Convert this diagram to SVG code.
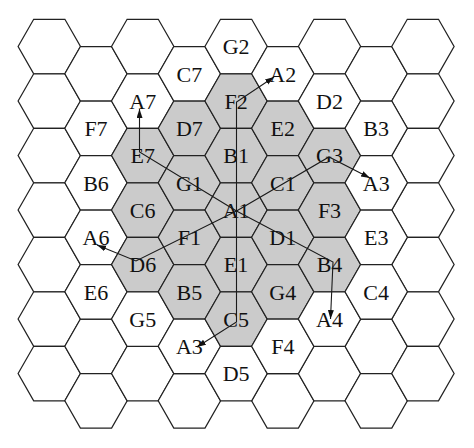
<svg xmlns="http://www.w3.org/2000/svg" xmlns:xlink="http://www.w3.org/1999/xlink" width="474" height="448" viewBox="0 0 474 448">
<defs>
<polygon id="hex" points="-31.2,0 -15.6,-27.25 15.6,-27.25 31.2,0 15.6,27.25 -15.6,27.25"/>
<marker id="arr" markerUnits="userSpaceOnUse" markerWidth="10" markerHeight="8" refX="9" refY="3" orient="auto">
<path d="M0,0 L9,3 L0,6 Z" fill="#111"/>
</marker>
</defs>
<style>
.w{fill:#fff;stroke:#222;stroke-width:1.25}
.g{fill:#cbcbcb;stroke:#222;stroke-width:1.25}
text{font-family:"Liberation Serif","Times New Roman",serif;font-size:22px;fill:#111;text-anchor:middle}
.c{fill:none;stroke:#1a1a1a;stroke-width:1.1}
</style>
<rect width="474" height="448" fill="#fff"/>
<g id="grid">
<use href="#hex" class="w" x="49.3" y="46.55"/><use href="#hex" class="w" x="49.3" y="101.05"/><use href="#hex" class="w" x="49.3" y="155.55"/><use href="#hex" class="w" x="49.3" y="210.05"/><use href="#hex" class="w" x="49.3" y="264.55"/><use href="#hex" class="w" x="49.3" y="319.05"/><use href="#hex" class="w" x="49.3" y="373.55"/>
<use href="#hex" class="w" x="96" y="73.8"/><use href="#hex" class="w" x="96" y="346.3"/><use href="#hex" class="w" x="96" y="400.8"/>
<use href="#hex" class="w" x="142.7" y="46.55"/><use href="#hex" class="w" x="142.7" y="373.55"/>
<use href="#hex" class="w" x="189.4" y="400.8"/>
<use href="#hex" class="w" x="282.8" y="400.8"/>
<use href="#hex" class="w" x="329.5" y="46.55"/><use href="#hex" class="w" x="329.5" y="373.55"/>
<use href="#hex" class="w" x="376.2" y="73.8"/><use href="#hex" class="w" x="376.2" y="346.3"/><use href="#hex" class="w" x="376.2" y="400.8"/>
<use href="#hex" class="w" x="422.9" y="46.55"/><use href="#hex" class="w" x="422.9" y="101.05"/><use href="#hex" class="w" x="422.9" y="155.55"/><use href="#hex" class="w" x="422.9" y="210.05"/><use href="#hex" class="w" x="422.9" y="264.55"/><use href="#hex" class="w" x="422.9" y="319.05"/><use href="#hex" class="w" x="422.9" y="373.55"/>
</g>
<g id="F7"><use href="#hex" class="w" x="96" y="128.3"/><text x="96" y="136">F7</text></g>
<g id="B6"><use href="#hex" class="w" x="96" y="182.8"/><text x="96" y="190.5">B6</text></g>
<g id="A6"><use href="#hex" class="w" x="96" y="237.3"/><text x="96" y="245">A6</text></g>
<g id="E6"><use href="#hex" class="w" x="96" y="291.8"/><text x="96" y="299.5">E6</text></g>
<g id="A7"><use href="#hex" class="w" x="142.7" y="101.05"/><text x="142.7" y="108.8">A7</text></g>
<g id="E7"><use href="#hex" class="g" x="142.7" y="155.55"/><text x="142.7" y="163.3">E7</text></g>
<g id="C6"><use href="#hex" class="g" x="142.7" y="210.05"/><text x="142.7" y="217.8">C6</text></g>
<g id="D6"><use href="#hex" class="g" x="142.7" y="264.55"/><text x="142.7" y="272.3">D6</text></g>
<g id="G5"><use href="#hex" class="w" x="142.7" y="319.05"/><text x="142.7" y="326.8">G5</text></g>
<g id="C7"><use href="#hex" class="w" x="189.4" y="73.8"/><text x="189.4" y="81.5">C7</text></g>
<g id="D7"><use href="#hex" class="g" x="189.4" y="128.3"/><text x="189.4" y="136">D7</text></g>
<g id="G1"><use href="#hex" class="g" x="189.4" y="182.8"/><text x="189.4" y="190.5">G1</text></g>
<g id="F1"><use href="#hex" class="g" x="189.4" y="237.3"/><text x="189.4" y="245">F1</text></g>
<g id="B5"><use href="#hex" class="g" x="189.4" y="291.8"/><text x="189.4" y="299.5">B5</text></g>
<g id="A3-lower"><use href="#hex" class="w" x="189.4" y="346.3"/><text x="189.4" y="354">A3</text></g>
<g id="G2"><use href="#hex" class="w" x="236.1" y="46.55"/><text x="236.1" y="54.3">G2</text></g>
<g id="F2"><use href="#hex" class="g" x="236.1" y="101.05"/><text x="236.1" y="108.8">F2</text></g>
<g id="B1"><use href="#hex" class="g" x="236.1" y="155.55"/><text x="236.1" y="163.3">B1</text></g>
<g id="A1"><use href="#hex" class="g" x="236.1" y="210.05"/><text x="236.1" y="217.8">A1</text></g>
<g id="E1"><use href="#hex" class="g" x="236.1" y="264.55"/><text x="236.1" y="272.3">E1</text></g>
<g id="C5"><use href="#hex" class="g" x="236.1" y="319.05"/><text x="236.1" y="326.8">C5</text></g>
<g id="D5"><use href="#hex" class="w" x="236.1" y="373.55"/><text x="236.1" y="381.3">D5</text></g>
<g id="A2"><use href="#hex" class="w" x="282.8" y="73.8"/><text x="282.8" y="81.5">A2</text></g>
<g id="E2"><use href="#hex" class="g" x="282.8" y="128.3"/><text x="282.8" y="136">E2</text></g>
<g id="C1"><use href="#hex" class="g" x="282.8" y="182.8"/><text x="282.8" y="190.5">C1</text></g>
<g id="D1"><use href="#hex" class="g" x="282.8" y="237.3"/><text x="282.8" y="245">D1</text></g>
<g id="G4"><use href="#hex" class="g" x="282.8" y="291.8"/><text x="282.8" y="299.5">G4</text></g>
<g id="F4"><use href="#hex" class="w" x="282.8" y="346.3"/><text x="282.8" y="354">F4</text></g>
<g id="D2"><use href="#hex" class="w" x="329.5" y="101.05"/><text x="329.5" y="108.8">D2</text></g>
<g id="G3"><use href="#hex" class="g" x="329.5" y="155.55"/><text x="329.5" y="163.3">G3</text></g>
<g id="F3"><use href="#hex" class="g" x="329.5" y="210.05"/><text x="329.5" y="217.8">F3</text></g>
<g id="B4"><use href="#hex" class="g" x="329.5" y="264.55"/><text x="329.5" y="272.3">B4</text></g>
<g id="A4"><use href="#hex" class="w" x="329.5" y="319.05"/><text x="329.5" y="326.8">A4</text></g>
<g id="B3"><use href="#hex" class="w" x="376.2" y="128.3"/><text x="376.2" y="136">B3</text></g>
<g id="A3-upper"><use href="#hex" class="w" x="376.2" y="182.8"/><text x="376.2" y="190.5">A3</text></g>
<g id="E3"><use href="#hex" class="w" x="376.2" y="237.3"/><text x="376.2" y="245">E3</text></g>
<g id="C4"><use href="#hex" class="w" x="376.2" y="291.8"/><text x="376.2" y="299.5">C4</text></g>
<g id="connectors">
<polyline class="c" points="236.5,211 236.5,102 274,77" marker-end="url(#arr)"/>
<polyline class="c" points="236.5,211 139.5,152 139.5,109" marker-end="url(#arr)"/>
<polyline class="c" points="236.5,211 329,157 370,178" marker-end="url(#arr)"/>
<polyline class="c" points="236.5,211 333,262 330.5,319" marker-end="url(#arr)"/>
<polyline class="c" points="236.5,211 136,261 97,245" marker-end="url(#arr)"/>
<polyline class="c" points="236.5,211 236.5,322 197,347" marker-end="url(#arr)"/>
</g>
</svg>
